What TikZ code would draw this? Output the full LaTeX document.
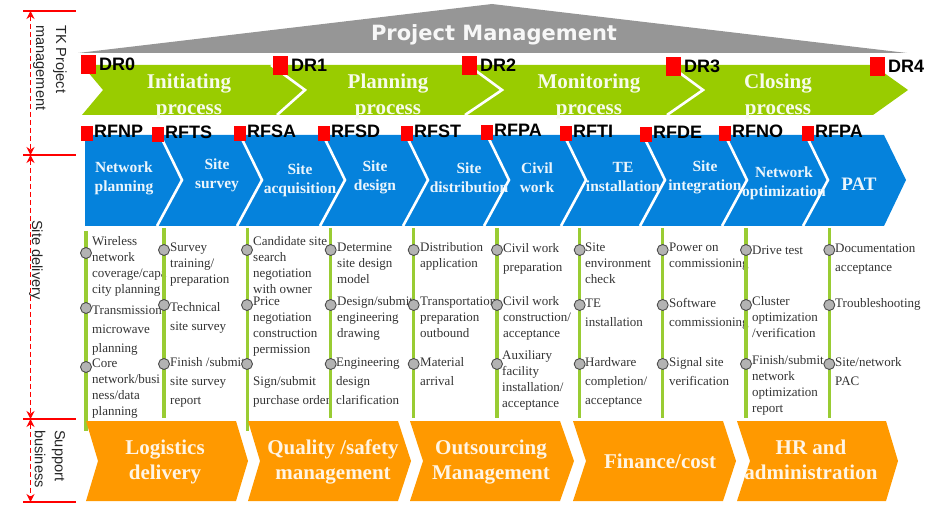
\documentclass[tikz,border=0pt]{standalone}
\usepackage{fontspec}
\setmainfont{Liberation Serif}
\setsansfont{Liberation Sans}
\newfontfamily\pmfont{DejaVu Sans}
\usetikzlibrary{arrows.meta}
\definecolor{grn}{HTML}{99CC00}
\definecolor{bargrn}{HTML}{99CC33}
\definecolor{blu}{HTML}{0582DC}
\definecolor{org}{HTML}{FF9900}
\definecolor{gry}{HTML}{969696}
\definecolor{dot}{HTML}{B3B3B3}
\definecolor{txt}{HTML}{333333}
\tikzset{
  sq/.style={fill=red,draw=none},
  drlab/.style={anchor=base west,inner sep=0pt,font=\sffamily\bfseries\fontsize{18}{18}\selectfont,text=black},
  rflab/.style={anchor=base west,inner sep=0pt,font=\sffamily\bfseries\fontsize{18}{18}\selectfont,text=black},
  lab/.style={align=center,inner sep=0pt,text=white,anchor=center},
  glab/.style={lab,font=\bfseries\fontsize{21}{26}\selectfont,text=white!92!grn},
  blab/.style={lab,font=\bfseries\fontsize{15.5}{19}\selectfont,text=white!92!blu},
  olab/.style={lab,font=\bfseries\fontsize{21}{25}\selectfont,text=white!90!org},
  txa/.style={anchor=north west,align=left,inner sep=0pt,text=txt,font=\fontsize{13}{16}\selectfont},
  txb/.style={anchor=north west,align=left,inner sep=0pt,text=txt,font=\fontsize{13}{19}\selectfont},
  bar/.style={draw=bargrn,line width=3.2pt},
  circ/.style={circle,fill=dot,draw=black!70,line width=0.9pt,minimum size=11pt,inner sep=0pt},
  sep/.style={draw=white,line width=2.6pt},
  hline/.style={draw=red,line width=2pt},
  ruler/.style={draw=red,line width=1.2pt,dash pattern=on 5pt off 3pt,{Stealth[length=8pt,width=8pt,fill=red]}-{Stealth[length=8pt,width=8pt,fill=red]}},
  side/.style={rotate=-90,anchor=west,align=left,inner sep=0pt,text=black!85,font=\sffamily\fontsize{14.6}{20}\selectfont},
}
\newcommand{\TA}[4]{\node[txa] (#1) at (#2,#3) {\rule{0pt}{9pt}#4};}
\newcommand{\TB}[4]{\node[txb] (#1) at (#2,#3) {\rule{0pt}{9pt}#4};}
\begin{document}
\begin{tikzpicture}[x=1pt,y=-1pt]
\useasboundingbox (0,0) rectangle (930,513);
% roof
\fill[gry] (78,53) -- (492,4) -- (907,53) -- cycle;
\node[inner sep=0pt,text=white!92!gry,font=\pmfont\bfseries\fontsize{21}{24}\selectfont] (pm) at (494,34.5) {Project Management};
% green band
\fill[grn] (90,65) -- (873,65) -- (908,90) -- (873,115) -- (82,115) -- (103,90) -- (82,65) -- cycle;
\draw[sep] (271,65) -- (305,90) -- (277,115);
\draw[sep] (468,65) -- (502,90) -- (465,115);
\draw[sep] (669,65) -- (703,90) -- (667,115);
\node[glab] (g1) at (189,96) {Initiating\\process};
\node[glab] (g2) at (388,96) {Planning\\process};
\node[glab] (g3) at (589,96) {Monitoring\\process};
\node[glab] (g4) at (778,96) {Closing\\process};
% blue band
\fill[blu] (85,135) -- (884,135) -- (906,180) -- (884,226) -- (85,226) -- cycle;
\foreach \t in {182,262,345,428,509,586,665,747,828}{
  \draw[sep] (\t-22,135) -- (\t,180) -- (\t-25,226);
}
\node[blab] (b1) at (124,178.5) {Network\\planning};
\node[blab] (b2) at (217,175.5) {Site\\survey};
\node[blab] (b3) at (300,180) {Site\\acquisition};
\node[blab] (b4) at (375,177.5) {Site\\design};
\node[blab] (b5) at (469,177.5) {Site\\distribution};
\node[blab] (b6) at (537,177.5) {Civil\\work};
\node[blab] (b7) at (623,177.5) {TE\\installation};
\node[blab] (b8) at (705,177.5) {Site\\integration};
\node[blab] (b9) at (784,183.5) {Network\\optimization};
\node[lab,font=\bfseries\fontsize{19}{22}\selectfont,text=white!92!blu] (b10) at (859,184) {PAT};
% task texts
\TA{a1}{92}{236}{Wireless\\network\\coverage/capa\\city planning}
\TB{a2}{92}{305}{Transmission\\microwave\\planning}
\TA{a3}{92}{358}{Core\\network/busi\\ness/data\\planning}
\TA{c1}{170}{242}{Survey\\training/\\preparation}
\TB{c2}{170}{302}{Technical\\site survey}
\TB{c3}{170}{357}{Finish /submit\\site survey\\report}
\TA{d1}{253}{236}{Candidate site\\search\\negotiation\\with owner}
\TA{d2}{253}{296}{Price\\negotiation\\construction\\permission}
\TB{d3}{253}{376}{Sign/submit\\purchase order}
\TA{e1}{337}{242}{Determine\\site design\\model}
\TA{e2}{337}{296}{Design/submit\\engineering\\drawing}
\TB{e3}{336}{357}{Engineering\\design\\clarification}
\TA{f1}{420}{242}{Distribution\\application}
\TA{f2}{420}{296}{Transportation\\preparation\\outbound}
\TB{f3}{420}{357}{Material\\arrival}
\TB{h1}{503}{243}{Civil work\\preparation}
\TA{h2}{503}{296}{Civil work\\construction/\\acceptance}
\TA{h3}{502}{350}{Auxiliary\\facility\\installation/\\acceptance}
\TA{i1}{585}{242}{Site\\environment\\check}
\TB{i2}{585}{298}{TE\\installation}
\TB{i3}{585}{357}{Hardware\\completion/\\acceptance}
\TA{j1}{669}{242}{Power on\\commissioning}
\TB{j2}{669}{298}{Software\\commissioning}
\TB{j3}{669}{357}{Signal site\\verification}
\TA{k1}{752}{245}{Drive test}
\TA{k2}{752}{296}{Cluster\\optimization\\/verification}
\TA{k3}{752}{355}{Finish/submit\\network\\optimization\\report}
\TB{l1}{835}{243}{Documentation\\acceptance}
\TA{l2}{835}{298}{Troubleshooting}
\TB{l3}{835}{357}{Site/network\\PAC}
% bars
\draw[bar] (86,231) -- (86,431);
\draw[bar] (247.5,228) -- (247.5,431);
\foreach \x in {164,330.7,413.7,497,579.7,662.7,746,829.3}{
  \draw[bar] (\x,228) -- (\x,418);
}
% circles
\foreach \n/\y in {1/253,2/308,3/367}{ \node[circ] (p0\n) at (86,\y) {}; }
\foreach \cx/\x in {1/164,2/247,3/330.7,4/413.7,5/497,6/579.7,7/662.7,8/746,9/829.3}{
  \foreach \n/\y in {1/250,2/305,3/364}{ \node[circ] (p\cx\n) at (\x,\y) {}; }
}
% orange band
\fill[org] (86,421) -- (236,421) -- (248,461) -- (236,501) -- (86,501) -- (98,461) -- cycle;
\fill[org] (248,421) -- (398,421) -- (411,461) -- (398,501) -- (248,501) -- (260,461) -- cycle;
\fill[org] (410,421) -- (560,421) -- (574,461) -- (560,501) -- (410,501) -- (423,461) -- cycle;
\fill[org] (573,421) -- (723,421) -- (736,461) -- (723,501) -- (573,501) -- (586,461) -- cycle;
\fill[org] (737,421) -- (886,421) -- (898,461) -- (886,501) -- (737,501) -- (750,461) -- cycle;
\node[olab] (o1) at (165,462) {Logistics\\delivery};
\node[olab] (o2) at (333,462) {Quality /safety\\management};
\node[olab] (o3) at (491,462) {Outsourcing\\Management};
\node[olab] (o4) at (660,461) {Finance/cost};
\node[olab] (o5) at (811,460) {HR and\\administration};
% red squares and labels
\foreach \nm/\x/\y/\lab in {q0/81/55/DR0,q1/273/56/DR1,q2/462/56/DR2,q3/666/57/DR3,q4/870/57/DR4}{
  \fill[sq] (\x,\y) rectangle ++(15,19);
  \node[drlab] (\nm) at (\x+18,\y+16) {\lab};
}
\foreach \nm/\x/\y/\lab in {r0/81/126/RFNP,r1/152/127/RFTS,r2/234/126/RFSA,r3/318/126/RFSD,r4/401/126/RFST,r5/481/125/RFPA,r6/560/126/RFTI,r7/640/127/RFDE,r8/719/126/RFNO,r9/802/126/RFPA}{
  \fill[sq] (\x,\y) rectangle ++(11.5,15);
  \node[rflab] (\nm) at (\x+13,\y+12) {\lab};
}
% side ruler
\foreach \nm/\y in {m0/11,m1/155,m2/419,m3/502}{
  \coordinate (\nm a) at (23,\y);
  \coordinate (\nm b) at (76,\y);
  \coordinate (\nm c) at (30.5,\y);
  \draw[hline] (\nm a) -- (\nm b);
}
\draw[ruler] (m0c) -- (m1c);
\draw[ruler] (m1c) -- (m2c);
\draw[ruler] (m2c) -- (m3c);
\node[side] (s1) at (50,25) {TK Project\\management};
\node[side] (s2) at (36,220) {Site delivery};
\node[side] (s3) at (50,430) {Support\\business};
\end{tikzpicture}
\end{document}
